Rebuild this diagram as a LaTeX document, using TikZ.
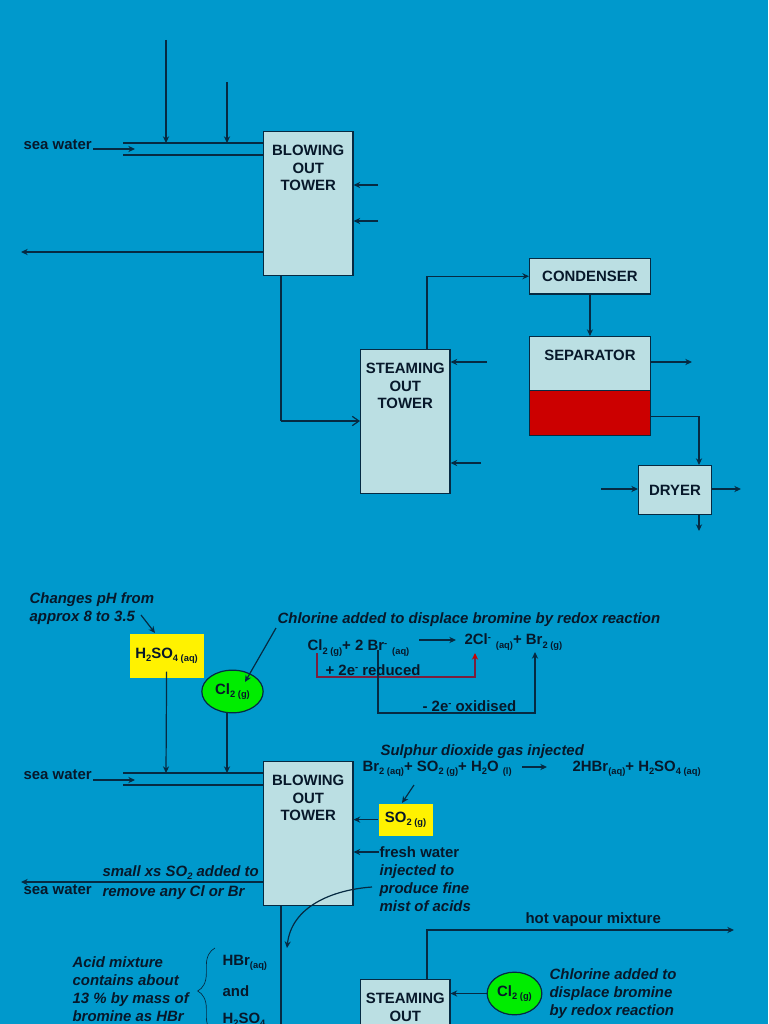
\documentclass[tikz,border=0pt]{standalone}
\usepackage{fontspec}
\setmainfont{Liberation Sans}
\usetikzlibrary{arrows.meta,decorations.pathreplacing,shapes.geometric}
\definecolor{seablue}{HTML}{0099CC}
\definecolor{boxblue}{HTML}{BBDFE3}
\definecolor{inkblue}{HTML}{062A42}
\definecolor{inktext}{HTML}{07182A}
\definecolor{sepred}{HTML}{CC0000}
\definecolor{redline}{HTML}{7A1F3D}
\newcommand{\sbs}[1]{\raisebox{-2.4pt}{\fontsize{7}{8}\selectfont #1}}
\newcommand{\sps}[1]{\raisebox{3.6pt}{\fontsize{7}{8}\selectfont #1}}

\begin{document}
\begin{tikzpicture}[
	  x=0.75pt,
	  y=-0.75pt,
	  >={Stealth[length=5pt,width=4.6pt]},
	  color=inkblue,
	  line width=0.9pt,
	  every node/.style={font=\fontsize{11.2}{13.2}\bfseries, text=inktext},
	  tower/.style={
		  draw,
		  fill=boxblue,
		  anchor=north west,
		  align=center,
		  minimum width=67pt,
		  inner xsep=0pt,
		  inner ysep=0pt,
		  text height=44.4pt,
		  text depth=63.4pt
	  },
	  unit/.style={
		  draw,
		  fill=boxblue,
		  anchor=north west,
		  inner xsep=0pt
	  },
	  chem/.style={
		  fill=yellow,
		  draw=none,
		  anchor=north west,
		  inner sep=0pt
	  },
	  gas/.style={
		  ellipse,
		  draw,
		  fill=green!93!black,
		  inner sep=0pt
	  },
	  tag/.style={
		  anchor=west,
		  inner sep=0pt
	  },
	  note/.style={
		  anchor=north west,
		  align=left,
		  inner sep=0pt,
		  font=\fontsize{11.2}{13.4}\bfseries\itshape
	  }
  ]
  \useasboundingbox (0,0) rectangle (768,1024);
  \clip (0,0) rectangle (768,1024);
  \fill[seablue] (0,0) rectangle (768,1024);

  % Free ends, upper flow sheet
  \coordinate (acidtop) at (166,40);
  \coordinate (acidjoin) at (166,143);
  \coordinate (cltop) at (227,82);
  \coordinate (cljoin) at (227,143);
  \coordinate (pipeatop) at (123,143);
  \coordinate (pipeabot) at (123,155);
  \coordinate (feedastart) at (93,149);
  \coordinate (feedaend) at (135,149);
  \coordinate (wasteaend) at (21,252);
  \coordinate (gasain) at (378,185);
  \coordinate (gasbin) at (378,221);
  \coordinate (dropa) at (281,276);
  \coordinate (dropaend) at (281,421);
  \coordinate (steamin) at (487,362);
  \coordinate (steaminb) at (481,463);
  \coordinate (riser) at (427,349);
  \coordinate (vapourout) at (692,362);
  \coordinate (dryertop) at (699,465);
  \coordinate (dryerin) at (601,489);
  \coordinate (dryerout) at (741,489);
  \coordinate (dryerbot) at (699,514);
  \coordinate (dryerdrop) at (699,531);

  % Free ends, lower flow sheet
  \coordinate (phstart) at (141,615);
  \coordinate (phend) at (155,633);
  \coordinate (acidjoinb) at (166,773);
  \coordinate (cljoinb) at (227,773);
  \coordinate (chlstart) at (276,628);
  \coordinate (chlend) at (245,682);
  \coordinate (pipebtop) at (123,773);
  \coordinate (pipebbot) at (123,785);
  \coordinate (feedbstart) at (93,780);
  \coordinate (feedbend) at (135,780);
  \coordinate (wastebend) at (21,882);
  \coordinate (dropb) at (281,906);
  \coordinate (dropbend) at (281,1024);
  \coordinate (freshin) at (379,852);
  \coordinate (mistout) at (372,887);
  \coordinate (mistin) at (287,948);
  \coordinate (riserb) at (427,979);
  \coordinate (hotend) at (734,930);
  \coordinate (reacta) at (419,640);
  \coordinate (reactb) at (456,640);
  \coordinate (redstart) at (317,653);
  \coordinate (redend) at (475,653);
  \coordinate (oxstart) at (378,650);
  \coordinate (oxend) at (535,652);
  \coordinate (reactc) at (522,767);
  \coordinate (reactd) at (547,767);
  \coordinate (sostart) at (414,785);
  \coordinate (soend) at (402,803);
  \coordinate (bracebot) at (215,1034);
  \coordinate (bracetop) at (215,948);

  % Connecting Arrows, drawn under the boxes
  \draw[->] (acidtop) -- (acidjoin);
  \draw[->] (cltop) -- (cljoin);
  \draw (pipeatop) -- (263,143);
  \draw (pipeabot) -- (263,155);
  \draw[->] (feedastart) -- (feedaend);
  \draw[->] (263,252) -- (wasteaend);
  \draw (pipebtop) -- (263,773);
  \draw (pipebbot) -- (263,785);
  \draw[->] (feedbstart) -- (feedbend);
  \draw[->] (263,882) -- (wastebend);
  \draw (dropb) -- (dropbend);

  % Boxes
  \node [tower] (blowa) at (263,131) {BLOWING\\OUT\\TOWER};
  \node [tower] (steama) at (360,349) {STEAMING\\OUT\\TOWER};
  \node [
	  unit,
	  minimum width=90.5pt,
	  minimum height=26.5pt,
  ] (condenser) at (529,258) {CONDENSER};
  \node [
	  unit,
	  minimum width=90.5pt,
	  inner ysep=0pt,
	  text height=18pt,
	  text depth=22.5pt,
  ] (separator) at (529,336) {SEPARATOR};
  \node [
	  unit,
	  fill=sepred,
	  minimum width=90.5pt,
	  minimum height=33.5pt,
	  inner ysep=0pt,
  ] (redlayer) at (529,390) {};
  \node [
	  unit,
	  minimum width=54.5pt,
	  minimum height=36.5pt,
  ] (dryer) at (638,465) {DRYER};
  \node [tower] (blowb) at (263,761) {BLOWING\\OUT\\TOWER};
  \node [
	  tower,
	  text height=31.2pt,
	  text depth=76.6pt,
  ] (steamb) at (360,979) {STEAMING\\OUT};
  \node [
	  chem,
	  minimum width=55.5pt,
	  minimum height=33pt,
  ] (sulph) at (129,633) {H\sbs{2}SO\sbs{4 (aq)}};
  \node [
	  gas,
	  minimum width=46pt,
	  minimum height=32pt,
  ] (cla) at (232.5,691.5) {Cl\sbs{2 (g)}};
  \node [
	  chem,
	  minimum width=40.5pt,
	  minimum height=24pt,
  ] (sotwo) at (378,803) {SO\sbs{2 (g)}};
  \node [
	  gas,
	  minimum width=41pt,
	  minimum height=32pt,
  ] (clb) at (514.5,993.5) {Cl\sbs{2 (g)}};

  % Arrows at the upper flow sheet
  \draw[->] (gasain) -- (gasain -| blowa.east);
  \draw[->] (gasbin) -- (gasbin -| blowa.east);
  \draw (dropa) -- (dropaend);
  \draw[-{Straight Barb[length=5pt,width=7pt]}] (dropaend) -- (dropaend -| steama.west);
  \draw[->] (steamin) -- (steamin -| steama.east);
  \draw[->] (steaminb) -- (steaminb -| steama.east);
  \draw[->] (riser) |- (condenser.west);
  \draw[->] (condenser.south) -- (separator.north);
  \draw[->] (vapourout -| separator.east) -- (vapourout);
  \draw[->] ([yshift=-2.6pt]redlayer.east) -| (dryertop);
  \draw[->] (dryerin) -- (dryerin -| dryer.west);
  \draw[->] (dryerout -| dryer.east) -- (dryerout);
  \draw[->] (dryerbot) -- (dryerdrop);

  % Arrows at the lower flow sheet
  \draw[->] (phstart) -- (phend);
  \draw[->] ([yshift=5pt]sulph.south) -- (acidjoinb);
  \draw[->] (cljoinb |- cla.south) -- (cljoinb);
  \draw[->] (chlstart) -- (chlend);
  \draw[->] (sotwo.west) -- (sotwo.west -| blowb.east);
  \draw[->] (sostart) -- (soend);
  \draw[->] (freshin) -- (freshin -| blowb.east);
  \draw[->] (mistout) to[out=184,in=84] (mistin);
  \draw[->] (riserb) |- (hotend);
  \draw[->] (clb.west) -- (clb.west -| steamb.east);
  \draw[->] (reacta) -- (reactb);
  \draw[->] (reactc) -- (reactd);
  \draw[redline, -{Stealth[length=5pt,width=4.6pt,color=sepred]}] (redstart) -- (317,677) -| (redend);
  \draw[->] (oxstart) -- (378,713) -| (oxend);
  \draw[decorate, decoration={brace, amplitude=13pt}, line width=0.5pt] (bracebot) -- (bracetop);

  % Labels
  \node [tag] (seaa) at (23,145) {sea water};
  \node [tag] (seab) at (23,775) {sea water};
  \node [tag] (seac) at (23,890) {sea water};
  \node [note] (phnote) at (29,592) {Changes pH from\\approx 8 to 3.5};
  \node [note] (chlnote) at (277,612) {Chlorine added to displace bromine by redox reaction};
  \node [tag] (eqa) at (307,648) {Cl\sbs{2 (g)}+ 2 Br\sps{-}\,\,\sbs{(aq)}};
  \node [tag] (eqb) at (464,642) {2Cl\sps{-}\,\,\sbs{(aq)}+ Br\sbs{2 (g)}};
  \node [tag] (reduced) at (325,670) {+ 2e\sps{-} reduced};
  \node [tag] (oxidised) at (422,706) {- 2e\sps{-} oxidised};
  \node [note] (sulnote) at (380,744) {Sulphur dioxide gas injected};
  \node [tag] (eqc) at (362,769) {Br\sbs{2 (aq)}+ SO\sbs{2 (g)}+ H\sbs{2}O \sbs{(l)}};
  \node [tag] (eqd) at (572,769) {2HBr\sbs{(aq)}+ H\sbs{2}SO\sbs{4 (aq)}};
  \node [tag] (fresh) at (379,852) {fresh water};
  \node [note] (mist) at (379,864) {injected to\\produce fine\\mist of acids};
  \node [note] (xsnote) at (102,865) {small xs SO\sbs{2} added to};
  \node [note] (clnote) at (102,885) {remove any Cl or Br};
  \node [note] (acidnote) at (72,956) {Acid mixture\\contains about\\13 \% by mass of\\bromine as HBr};
  \node [tag] (hbr) at (222,963) {HBr\sbs{(aq)}};
  \node [tag] (andword) at (222,991) {and};
  \node [tag] (htwo) at (222,1020) {H\sbs{2}SO\sbs{4}};
  \node [tag] (hot) at (525,920) {hot vapour mixture};
  \node [note] (chlnoteb) at (549,968) {Chlorine added to\\displace bromine\\by redox reaction};

\end{tikzpicture}
\end{document}
